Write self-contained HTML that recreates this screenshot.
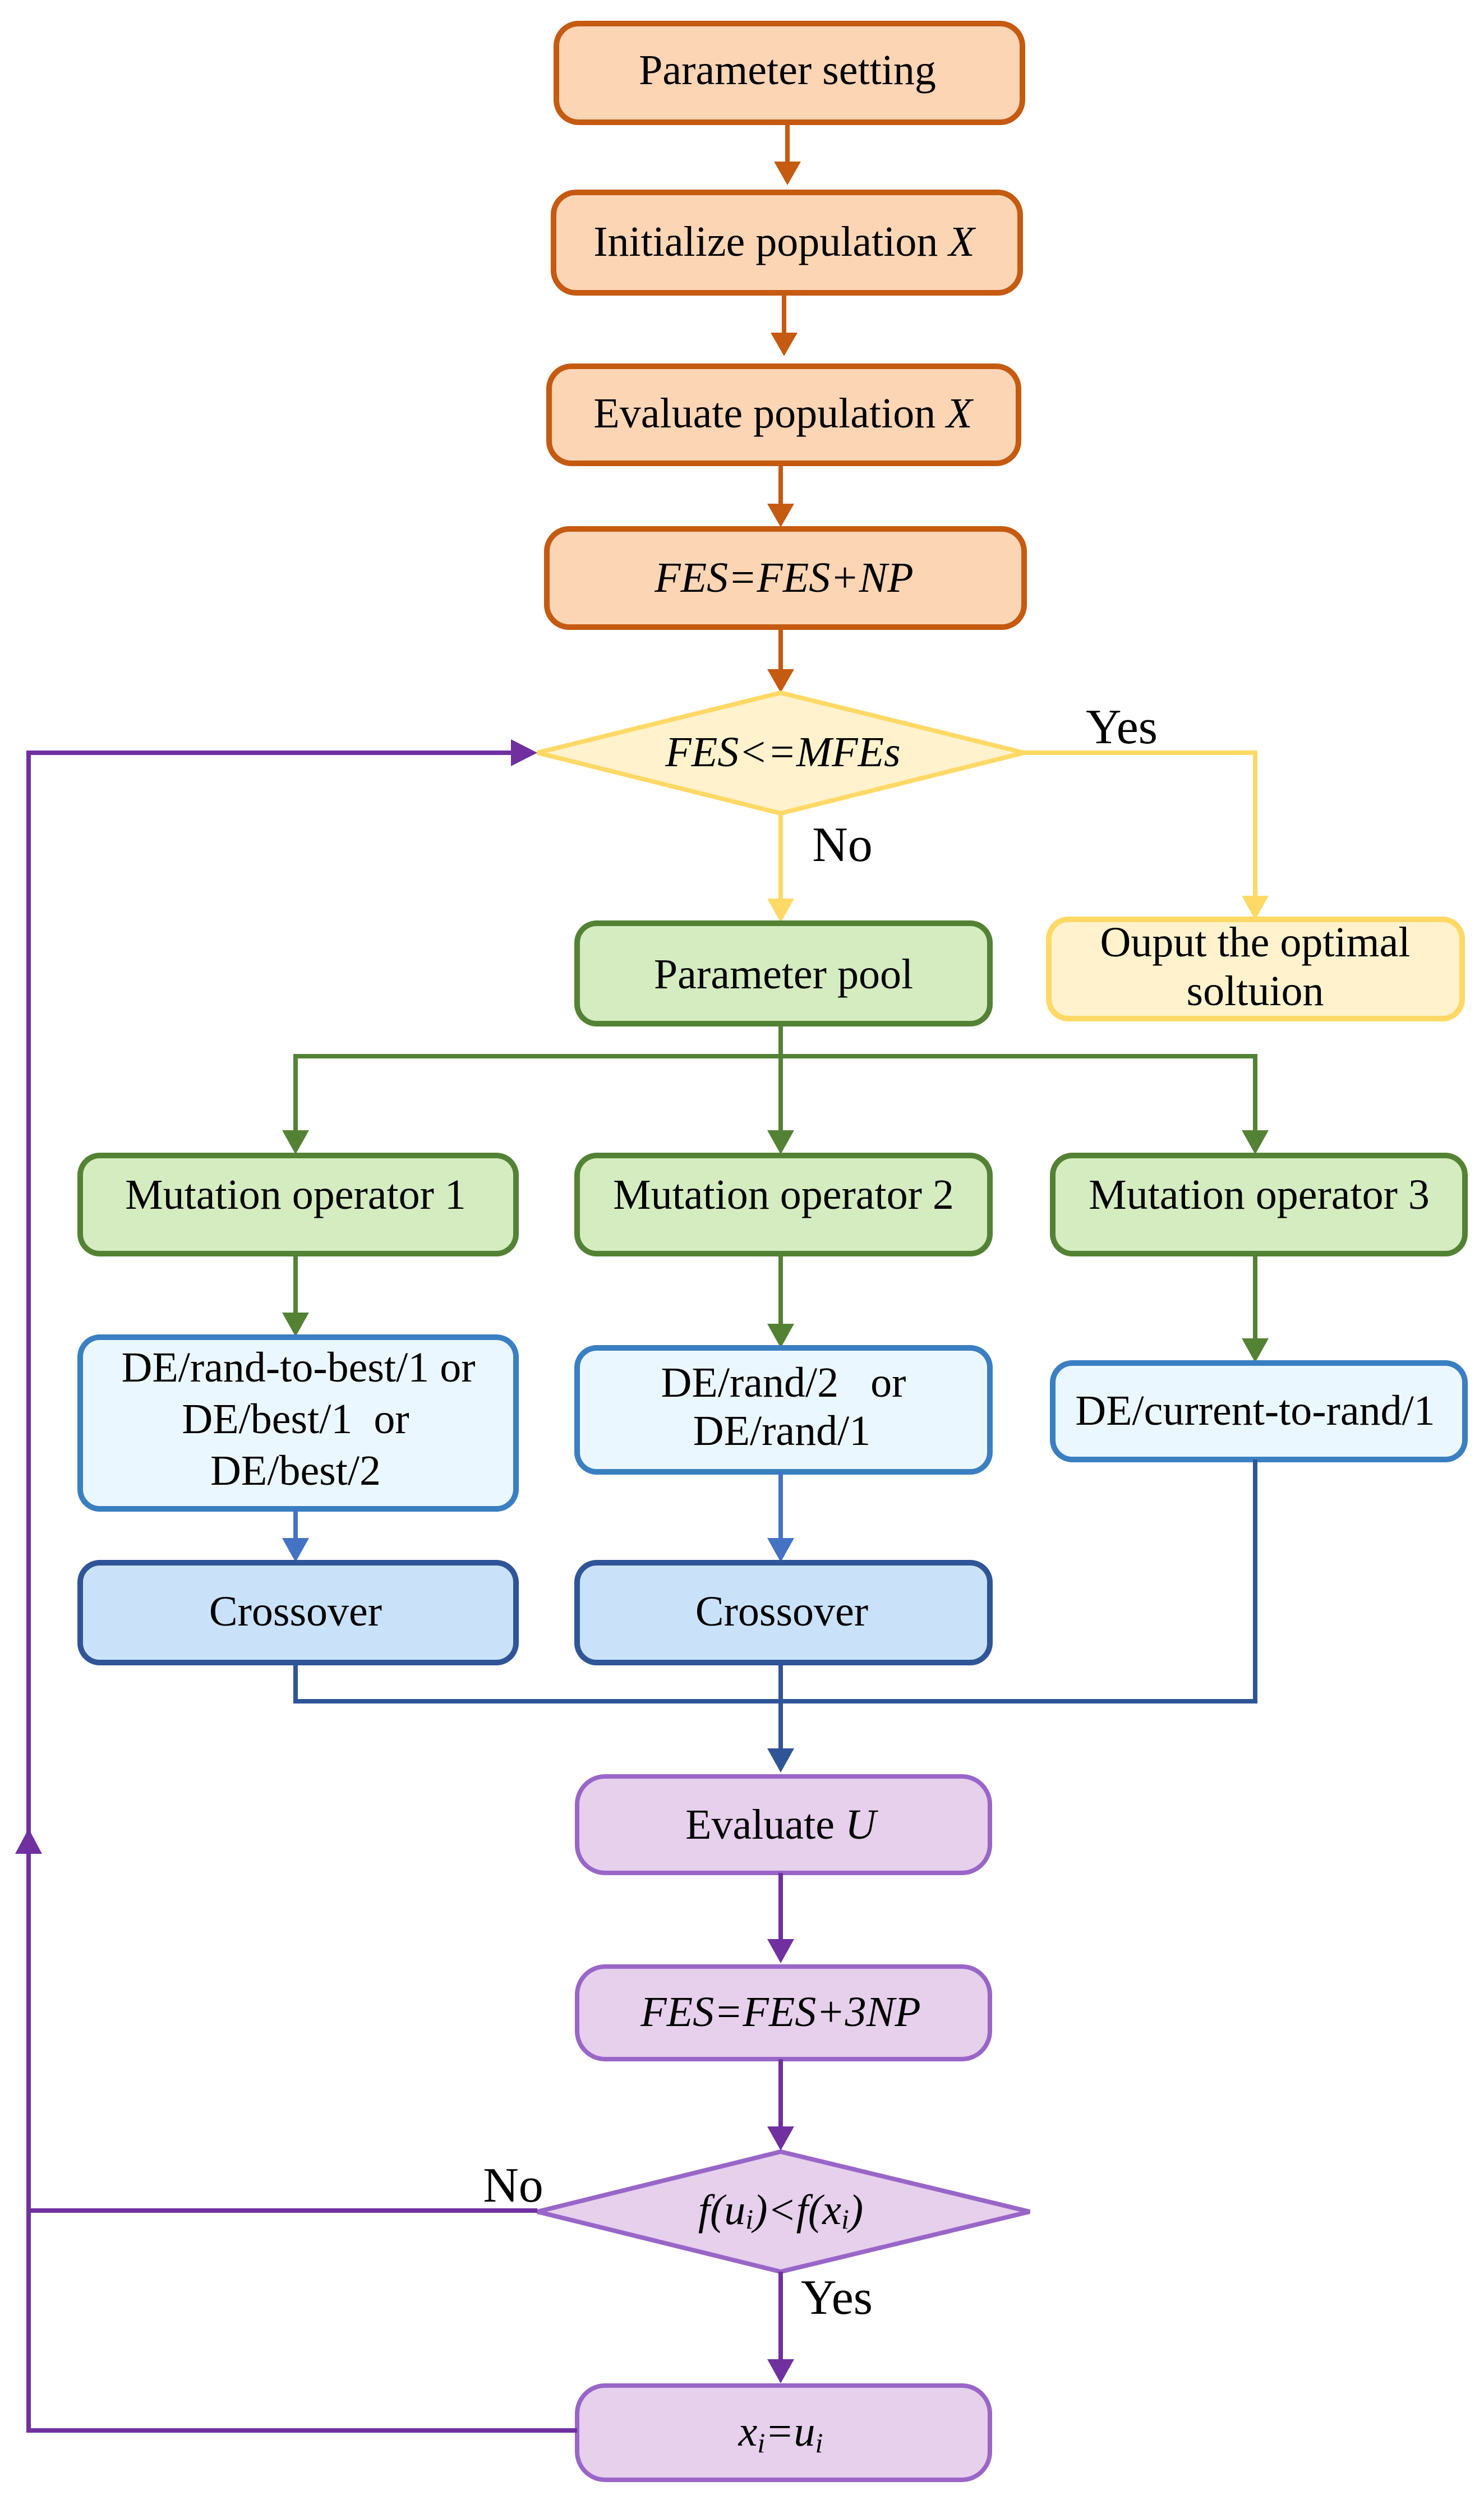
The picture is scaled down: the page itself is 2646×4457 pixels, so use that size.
<!DOCTYPE html>
<html><head><meta charset="utf-8"><style>html,body{margin:0;padding:0;background:#fff}svg{display:block}text{font-family:"Liberation Serif","Times New Roman",serif}</style></head>
<body>
<svg xmlns="http://www.w3.org/2000/svg" width="2646" height="4457" viewBox="0 0 2646 4457" font-size="76" text-anchor="middle">
<g stroke-width="10">
<rect x="992" y="42" width="831" height="176" rx="40" fill="#FCD5B5" stroke="#C55A11"/>
<rect x="987" y="343" width="832" height="179" rx="40" fill="#FCD5B5" stroke="#C55A11"/>
<rect x="979" y="653" width="837" height="173" rx="40" fill="#FCD5B5" stroke="#C55A11"/>
<rect x="975" y="943" width="851" height="175" rx="40" fill="#FCD5B5" stroke="#C55A11"/>
</g>
<g stroke-width="8" fill="none">
<line x1="1404" y1="218" x2="1404" y2="290" stroke="#C55A11"/>
<line x1="1398" y1="522" x2="1398" y2="595" stroke="#C55A11"/>
<line x1="1392" y1="826" x2="1392" y2="900" stroke="#C55A11"/>
<line x1="1392" y1="1118" x2="1392" y2="1195" stroke="#C55A11"/>
</g>
<g fill="#C55A11">
<polygon points="1380,288 1428,288 1404,330"/>
<polygon points="1374,593 1422,593 1398,635"/>
<polygon points="1368,898 1416,898 1392,940"/>
<polygon points="1368,1193 1416,1193 1392,1235"/>
</g>
<polygon points="1392,1235 1826,1342 1392,1450 958,1342" fill="#FFF2CC" stroke="#FFD966" stroke-width="8"/>
<g stroke="#FFD966" stroke-width="8" fill="none">
<polyline points="1826,1342 2238,1342 2238,1600"/>
<line x1="1392" y1="1450" x2="1392" y2="1605"/>
</g>
<g fill="#FFD966">
<polygon points="2214,1597 2262,1597 2238,1640"/>
<polygon points="1368,1602 1416,1602 1392,1645"/>
</g>
<rect x="1870" y="1639" width="737" height="177" rx="35" fill="#FFF2CC" stroke="#FFD966" stroke-width="10"/>
<g fill="#D4ECC0" stroke="#548235" stroke-width="10">
<rect x="1029" y="1646" width="736" height="179" rx="35"/>
<rect x="143" y="2060" width="777" height="175" rx="35"/>
<rect x="1029" y="2060" width="736" height="175" rx="35"/>
<rect x="1877" y="2060" width="735" height="175" rx="35"/>
</g>
<g stroke="#548235" stroke-width="8" fill="none">
<line x1="1392" y1="1825" x2="1392" y2="2020"/>
<polyline points="527,2020 527,1883 2238,1883 2238,2020"/>
<line x1="527" y1="2235" x2="527" y2="2345"/>
<line x1="1392" y1="2235" x2="1392" y2="2365"/>
<line x1="2238" y1="2235" x2="2238" y2="2390"/>
</g>
<g fill="#548235">
<polygon points="503,2015 551,2015 527,2058"/>
<polygon points="1368,2015 1416,2015 1392,2058"/>
<polygon points="2214,2015 2262,2015 2238,2058"/>
<polygon points="503,2340 551,2340 527,2383"/>
<polygon points="1368,2360 1416,2360 1392,2403"/>
<polygon points="2214,2386 2262,2386 2238,2429"/>
</g>
<g fill="#EBF7FE" stroke="#3A7FC1" stroke-width="10">
<rect x="143" y="2384" width="777" height="306" rx="35"/>
<rect x="1029" y="2403" width="736" height="221" rx="35"/>
<rect x="1877" y="2430" width="735" height="172" rx="35"/>
</g>
<g stroke="#4472C4" stroke-width="8">
<line x1="527" y1="2690" x2="527" y2="2745"/>
<line x1="1392" y1="2624" x2="1392" y2="2745"/>
</g>
<g fill="#4472C4">
<polygon points="503,2742 551,2742 527,2785"/>
<polygon points="1368,2742 1416,2742 1392,2785"/>
</g>
<g fill="#C9E2F9" stroke="#2F5597" stroke-width="10">
<rect x="143" y="2786" width="777" height="178" rx="35"/>
<rect x="1029" y="2786" width="736" height="178" rx="35"/>
</g>
<g stroke="#2F5597" stroke-width="8" fill="none">
<polyline points="527,2964 527,3033 2238,3033 2238,2602"/>
<line x1="1392" y1="2964" x2="1392" y2="3120"/>
</g>
<polygon points="1368,3117 1416,3117 1392,3160" fill="#2F5597"/>
<g fill="#E6D0EC" stroke="#9966C8" stroke-width="8">
<rect x="1029" y="3167" width="736" height="172" rx="50"/>
<rect x="1029" y="3506" width="736" height="165" rx="50"/>
<rect x="1029" y="4253" width="736" height="168" rx="50"/>
<polygon points="1392,3836 1836,3943 1392,4050 958,3943"/>
</g>
<g stroke="#7030A0" stroke-width="8" fill="none">
<line x1="1392" y1="3339" x2="1392" y2="3460"/>
<line x1="1392" y1="3671" x2="1392" y2="3795"/>
<line x1="1392" y1="4050" x2="1392" y2="4210"/>
<polyline points="1029,4333 51,4333 51,1342 915,1342"/>
<line x1="51" y1="3941" x2="958" y2="3941"/>
</g>
<g fill="#7030A0">
<polygon points="1368,3457 1416,3457 1392,3500"/>
<polygon points="1368,3791 1416,3791 1392,3834"/>
<polygon points="1368,4206 1416,4206 1392,4249"/>
<polygon points="911,1318 911,1366 958,1342"/>
<polygon points="27,3305 75,3305 51,3260"/>
</g>
<g fill="#000">
<text x="1404" y="150">Parameter setting</text>
<text x="1398" y="456">Initialize population <tspan font-style="italic">X</tspan></text>
<text x="1396" y="762">Evaluate population <tspan font-style="italic">X</tspan></text>
<text x="1398" y="1055" font-style="italic">FES=FES+NP</text>
<text x="1396" y="1366" font-style="italic">FES&lt;=MFEs</text>
<text x="2000" y="1325" font-size="88">Yes</text>
<text x="1502" y="1535" font-size="88">No</text>
<text x="2238" y="1705">Ouput the optimal</text>
<text x="2238" y="1792">soltuion</text>
<text x="1397" y="1762">Parameter pool</text>
<text x="527" y="2155">Mutation operator 1</text>
<text x="1397" y="2155">Mutation operator 2</text>
<text x="2245" y="2155">Mutation operator 3</text>
<text x="532" y="2463">DE/rand-to-best/1 or</text>
<text x="527" y="2555" xml:space="preserve">DE/best/1  or</text>
<text x="527" y="2647">DE/best/2</text>
<text x="1397" y="2490" xml:space="preserve">DE/rand/2   or</text>
<text x="1394" y="2576">DE/rand/1</text>
<text x="2238" y="2540">DE/current-to-rand/1</text>
<text x="527" y="2898">Crossover</text>
<text x="1394" y="2898">Crossover</text>
<text x="1392" y="3278">Evaluate <tspan font-style="italic">U</tspan></text>
<text x="1392" y="3612" font-style="italic">FES=FES+3NP</text>
<text x="1392" y="3965" font-style="italic">f(u<tspan font-size="50" dy="8">i</tspan><tspan dy="-8">)&lt;f(x</tspan><tspan font-size="50" dy="8">i</tspan><tspan dy="-8">)</tspan></text>
<text x="915" y="3925" font-size="88">No</text>
<text x="1492" y="4125" font-size="88">Yes</text>
<text x="1392" y="4360" font-style="italic">x<tspan font-size="50" dy="12">i</tspan><tspan dy="-12">=u</tspan><tspan font-size="50" dy="12">i</tspan></text>
</g>
</svg>
</body></html>
